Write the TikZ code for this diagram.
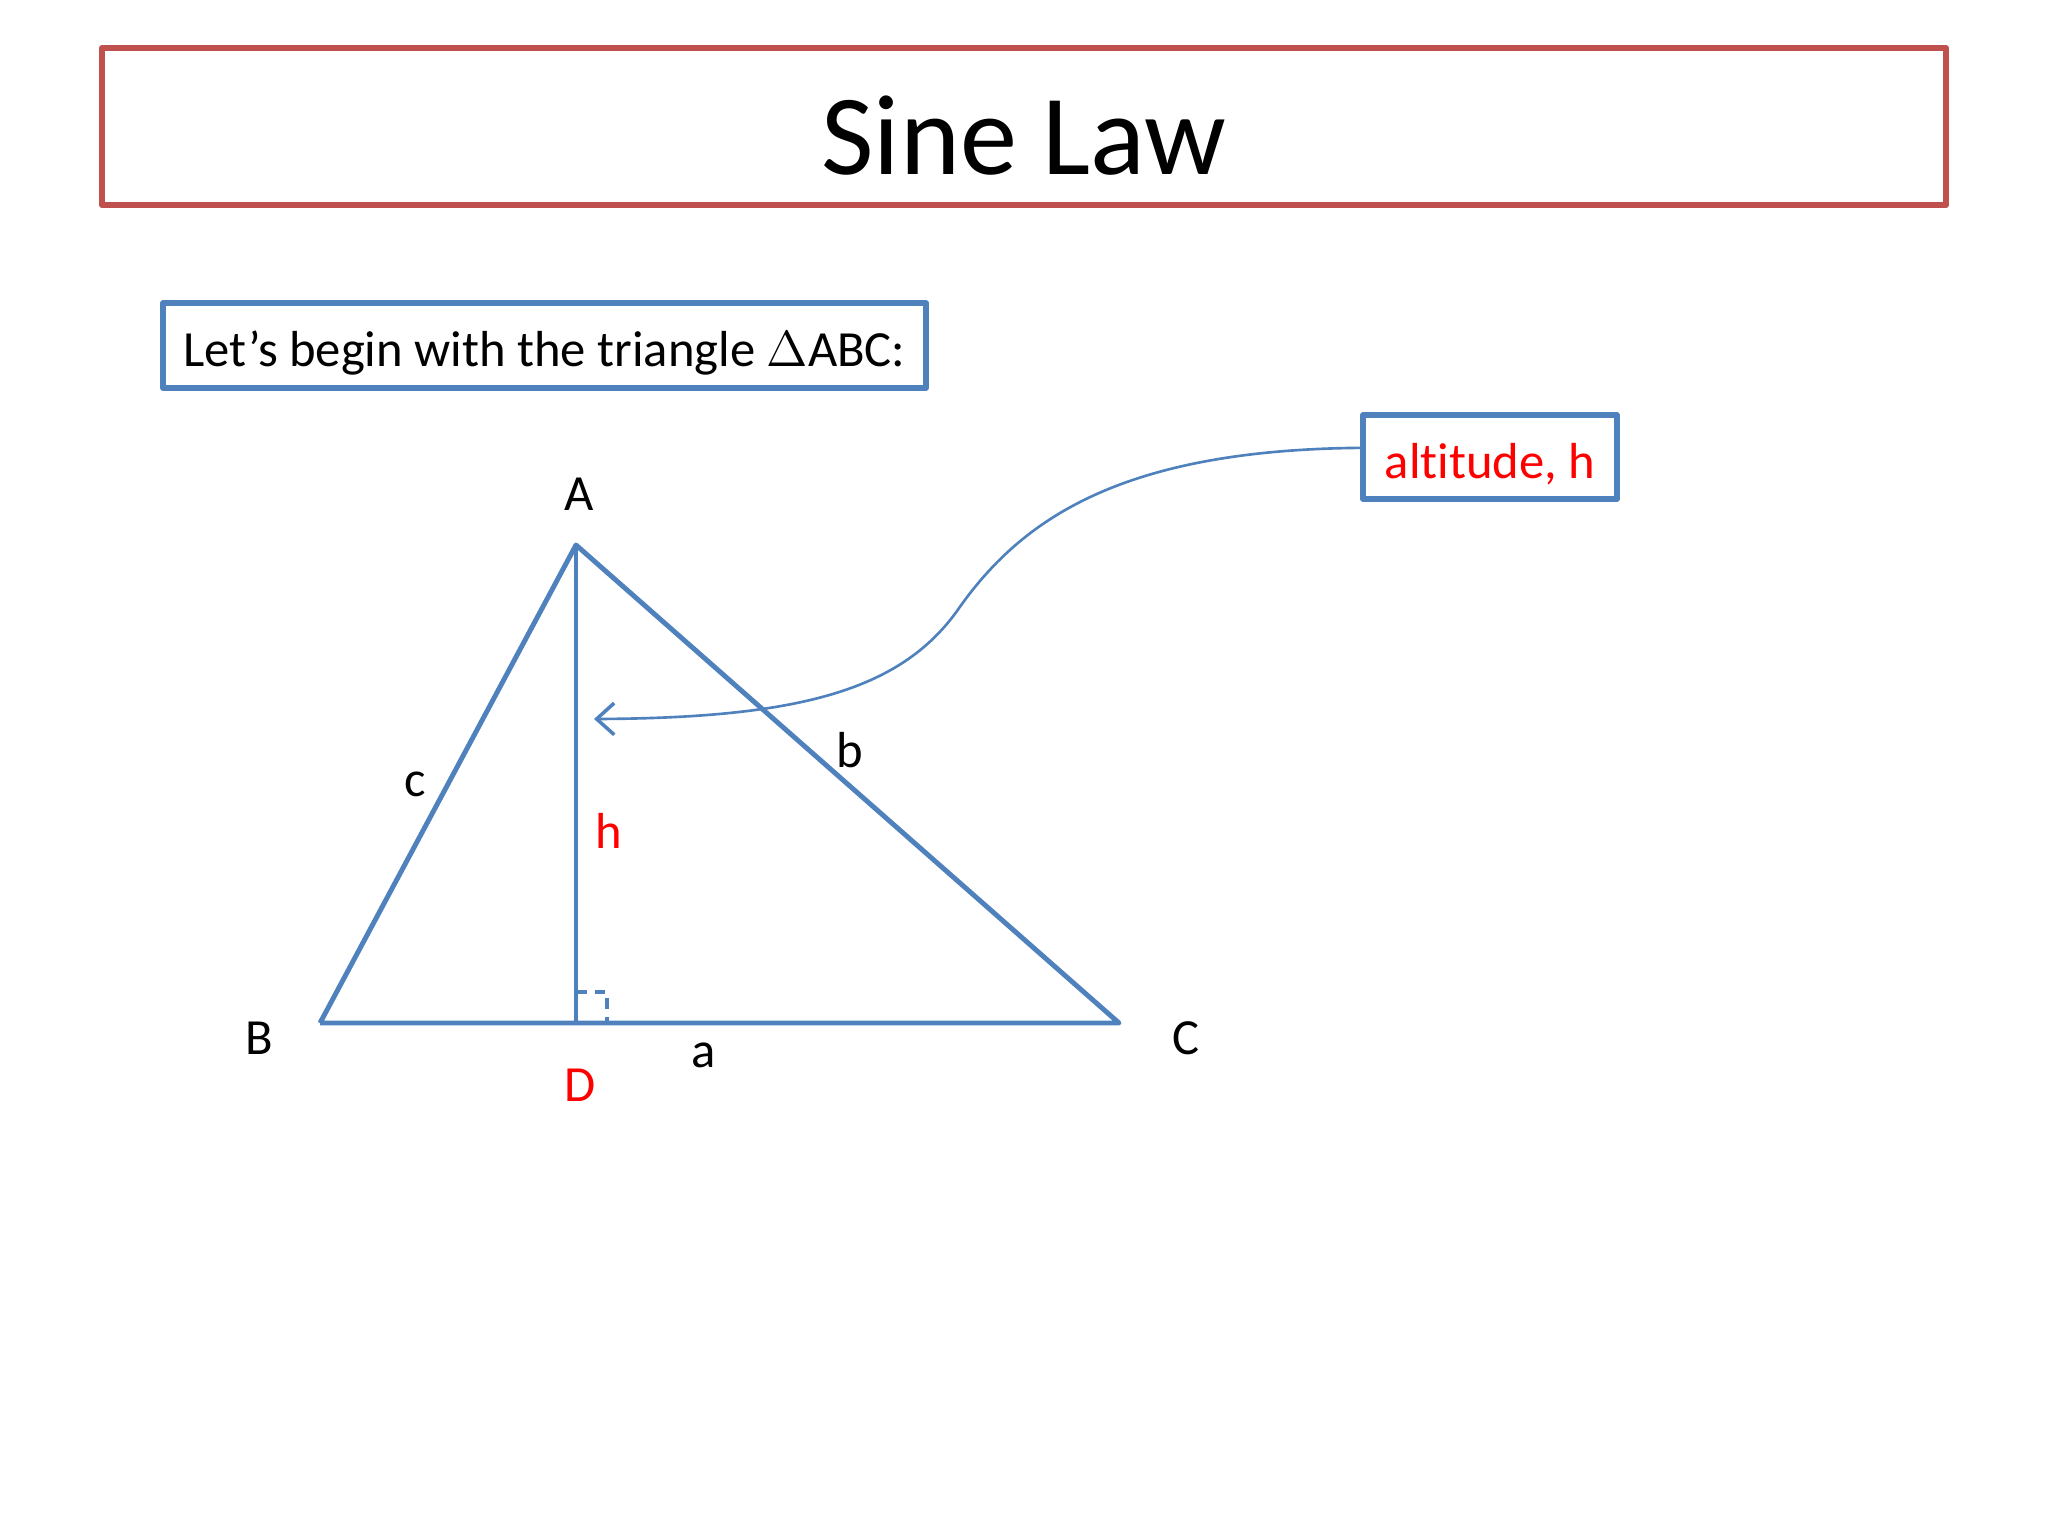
\documentclass[tikz,border=0pt]{standalone}
\usepackage{fontspec}
\setmainfont{Carlito}[Ligatures=NoCommon]
\usetikzlibrary{calc}
\usetikzlibrary{arrows.meta}
\definecolor{frame}{RGB}{192,80,77}
\definecolor{edgeblue}{RGB}{79,129,189}
\definecolor{txtred}{RGB}{255,0,0}
\tikzstyle{box}=[draw=edgeblue,line width=1.6pt,inner sep=0pt,text height=12pt,text depth=0pt]
\tikzstyle{lbl}=[font=\fontsize{14.4}{17}\selectfont,inner sep=0pt]

\begin{document}
\begin{tikzpicture}[x=0.01cm,y=-0.01cm,line join=round]
	\useasboundingbox (0,0) rectangle (2048,1536);
	\draw[frame,line width=1.7pt] (102,48) rectangle (1946,205);
	\node[font=\fontsize{32.5}{40}\selectfont] (title) at (1024,136) {Sine Law};
	\node[box,minimum width=763*0.01cm,minimum height=85*0.01cm,lbl] (intro) at (544.5,345.5) {Let’s begin with the triangle $\Delta$ABC:};
	\node[box,minimum width=254*0.01cm,minimum height=84*0.01cm,lbl,text=txtred] (alt) at (1490,457) {altitude, h};
	% triangle
	\coordinate (A) at (576,545);
	\coordinate (B) at (320,1023);
	\coordinate (C) at (1119,1023);
	\coordinate (D) at (576,1023);
	\draw[edgeblue,line width=1.4pt] (B) -- (A) -- (C) -- (B);
	\draw[edgeblue,line width=0.9pt] (A) -- (D);
	\draw[edgeblue,line width=0.9pt,dash pattern=on 3pt off 2.3pt] ($ (D) + (0,-31) $) -- ($ (D) + (31,-31) $) -- ($ (D) + (31,0) $);
	\node[lbl] (lA) at (579,494) {A};
	\node[lbl] (lB) at (259,1038) {B};
	\node[lbl] (lC) at (1186,1038) {C};
	\node[lbl] (lc) at (415,784) {c};
	\node[lbl] (lb) at (850,750) {b};
	\node[lbl] (la) at (704,1055) {a};
	\node[lbl,text=txtred] (lh) at (609,831) {h};
	\node[lbl,text=txtred] (lD) at (580,1085) {D};
	% pointer to the altitude
	\coordinate (tip) at (594,719);
	\coordinate (bend) at (957,611);
	\draw[edgeblue,line width=0.75pt,-{Straight Barb[length=5pt,width=9pt,line width=1pt]}]
		([yshift=2.6pt]alt.west) .. controls (1120,450) and (1020,520) .. (bend)
		.. controls (900,690) and (800,718) .. (tip);
\end{tikzpicture}
\end{document}
